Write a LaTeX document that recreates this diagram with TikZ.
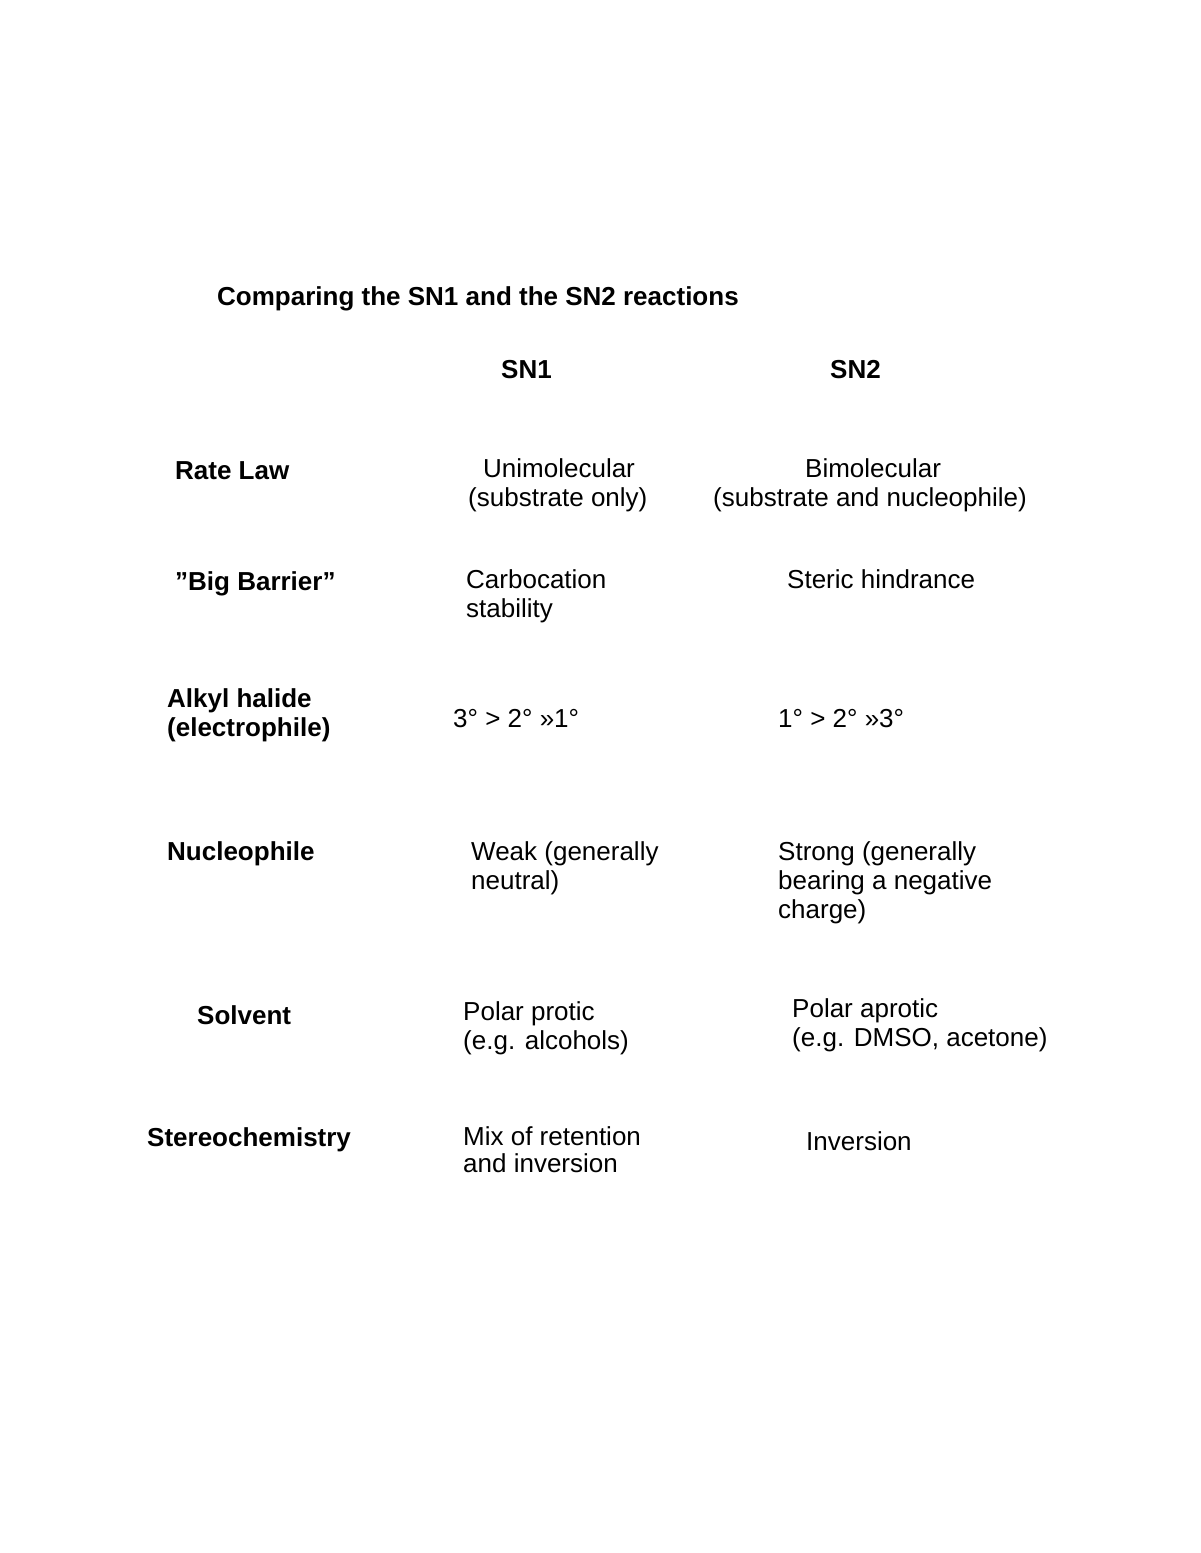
\documentclass[tikz,border=0pt]{standalone}
\usepackage{fontspec}
\setmainfont{Liberation Sans}
\begin{document}
\begin{tikzpicture}[x=1pt,y=-1pt,
  t/.style={anchor=base west,inner sep=0pt,font=\fontsize{26}{29}\selectfont},
  b/.style={t,font=\fontsize{26}{29}\selectfont\bfseries}]
\useasboundingbox (0,0) rectangle (1200,1553);
\node[b] (title) at (217,305) {Comparing the SN1 and the SN2 reactions};
\node[b] (h1) at (501,378) {SN1};
\node[b] (h2) at (830,378) {SN2};
\node[b] (r1) at (175,479) {Rate Law};
\node[t] (r1a) at (483,477) {Unimolecular};
\node[t] (r1b) at (468,506) {(substrate only)};
\node[t] (r1c) at (805,477) {Bimolecular};
\node[t] (r1d) at (713,506) {(substrate and nucleophile)};
\node[b] (r2) at (175,590) {"Big Barrier"};
\node[t] (r2a) at (466,588) {Carbocation};
\node[t] (r2b) at (466,617) {stability};
\node[t] (r2c) at (787,588) {Steric hindrance};
\node[b] (r3) at (167,707) {Alkyl halide};
\node[b] (r3x) at (167,736) {(electrophile)};
\node[t] (r3a) at (453,727) {3° > 2° >>1°};
\node[t] (r3c) at (778,727) {1° > 2° >>3°};
\node[b] (r4) at (167,860) {Nucleophile};
\node[t] (r4a) at (471,860) {Weak (generally};
\node[t] (r4b) at (471,889) {neutral)};
\node[t] (r4c) at (778,860) {Strong (generally};
\node[t] (r4d) at (778,889) {bearing a negative};
\node[t] (r4e) at (778,918) {charge)};
\node[b] (r5) at (197,1024) {Solvent};
\node[t] (r5a) at (463,1020) {Polar protic};
\node[t] (r5b) at (463,1049) {(e.g. alcohols)};
\node[t] (r5c) at (792,1017) {Polar aprotic};
\node[t] (r5d) at (792,1046) {(e.g. DMSO, acetone)};
\node[b] (r6) at (147,1146) {Stereochemistry};
\node[t] (r6a) at (463,1145) {Mix of retention};
\node[t] (r6b) at (463,1172) {and inversion};
\node[t] (r6c) at (806,1150) {Inversion};
\end{tikzpicture}
\end{document}
